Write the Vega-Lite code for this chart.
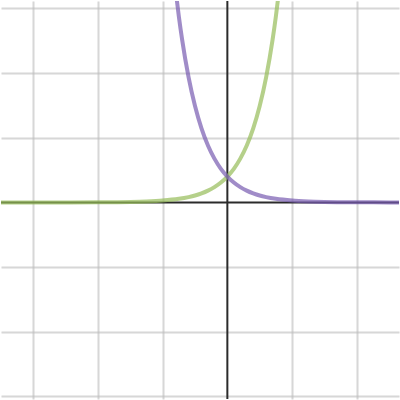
{
  "$schema": "https://vega.github.io/schema/vega-lite/v6.json",
  "width": 400,
  "height": 400,
  "padding": 0,
  "autosize": {"type": "fit", "contains": "padding"},
  "background": "white",
  "config": {"view": {"stroke": null}},
  "datasets": {
    "curves": [
      {"x": -3.5, "y": 0.00004, "s": "green"},
      {"x": -3.0, "y": 0.00015, "s": "green"},
      {"x": -2.5, "y": 0.00056, "s": "green"},
      {"x": -2.0, "y": 0.0021, "s": "green"},
      {"x": -1.5, "y": 0.0077, "s": "green"},
      {"x": -1.25, "y": 0.015, "s": "green"},
      {"x": -1.0, "y": 0.0288, "s": "green"},
      {"x": -0.75, "y": 0.0556, "s": "green"},
      {"x": -0.6, "y": 0.0826, "s": "green"},
      {"x": -0.5, "y": 0.107, "s": "green"},
      {"x": -0.4, "y": 0.14, "s": "green"},
      {"x": -0.3, "y": 0.182, "s": "green"},
      {"x": -0.2, "y": 0.236, "s": "green"},
      {"x": -0.1, "y": 0.307, "s": "green"},
      {"x": 0.0, "y": 0.4, "s": "green"},
      {"x": 0.1, "y": 0.52, "s": "green"},
      {"x": 0.2, "y": 0.677, "s": "green"},
      {"x": 0.3, "y": 0.88, "s": "green"},
      {"x": 0.4, "y": 1.145, "s": "green"},
      {"x": 0.5, "y": 1.49, "s": "green"},
      {"x": 0.6, "y": 1.938, "s": "green"},
      {"x": 0.7, "y": 2.521, "s": "green"},
      {"x": 0.75, "y": 2.876, "s": "green"},
      {"x": 0.8, "y": 3.28, "s": "green"},
      {"x": 0.85, "y": 3.74, "s": "green"},
      {"x": -0.85, "y": 3.74, "s": "purple"},
      {"x": -0.8, "y": 3.28, "s": "purple"},
      {"x": -0.75, "y": 2.876, "s": "purple"},
      {"x": -0.7, "y": 2.521, "s": "purple"},
      {"x": -0.6, "y": 1.938, "s": "purple"},
      {"x": -0.5, "y": 1.49, "s": "purple"},
      {"x": -0.4, "y": 1.145, "s": "purple"},
      {"x": -0.3, "y": 0.88, "s": "purple"},
      {"x": -0.2, "y": 0.677, "s": "purple"},
      {"x": -0.1, "y": 0.52, "s": "purple"},
      {"x": 0.0, "y": 0.4, "s": "purple"},
      {"x": 0.1, "y": 0.307, "s": "purple"},
      {"x": 0.2, "y": 0.236, "s": "purple"},
      {"x": 0.3, "y": 0.182, "s": "purple"},
      {"x": 0.4, "y": 0.14, "s": "purple"},
      {"x": 0.5, "y": 0.107, "s": "purple"},
      {"x": 0.6, "y": 0.0826, "s": "purple"},
      {"x": 0.75, "y": 0.0556, "s": "purple"},
      {"x": 1.0, "y": 0.0288, "s": "purple"},
      {"x": 1.25, "y": 0.015, "s": "purple"},
      {"x": 1.5, "y": 0.0077, "s": "purple"},
      {"x": 2.0, "y": 0.0021, "s": "purple"},
      {"x": 2.5, "y": 0.00056, "s": "purple"},
      {"x": 2.7, "y": 0.0003, "s": "purple"}
    ]
  },
  "layer": [
    {
      "data": {"values": [{"v": 0}]},
      "mark": {"type": "rule", "color": "#2b2b2b", "strokeWidth": 2},
      "encoding": {
        "x": {
          "field": "v", "type": "quantitative",
          "scale": {"domain": [-3.5, 2.654], "nice": false, "zero": false},
          "axis": {"values": [-3, -2, -1, 1, 2], "grid": true, "gridColor": "#bdbdbd", "gridWidth": 2, "gridOpacity": 0.6, "labels": false, "ticks": false, "domain": false, "title": null}
        }
      }
    },
    {
      "data": {"values": [{"v": 0}]},
      "mark": {"type": "rule", "color": "#2b2b2b", "strokeWidth": 2},
      "encoding": {
        "y": {
          "field": "v", "type": "quantitative",
          "scale": {"domain": [-3.04, 3.115], "nice": false, "zero": false},
          "axis": {"values": [-3, -2, -1, 1, 2, 3], "grid": true, "gridColor": "#bdbdbd", "gridWidth": 2, "gridOpacity": 0.6, "labels": false, "ticks": false, "domain": false, "title": null}
        }
      }
    },
    {
      "data": {"name": "curves"},
      "mark": {"type": "line", "strokeWidth": 4, "opacity": 0.7, "clip": true, "interpolate": "monotone"},
      "encoding": {
        "x": {"field": "x", "type": "quantitative"},
        "y": {"field": "y", "type": "quantitative"},
        "color": {
          "field": "s", "type": "nominal", "legend": null,
          "scale": {"domain": ["green", "purple"], "range": ["#95bc58", "#775bb0"]}
        },
        "order": {"field": "x", "type": "quantitative"}
      }
    }
  ]
}
